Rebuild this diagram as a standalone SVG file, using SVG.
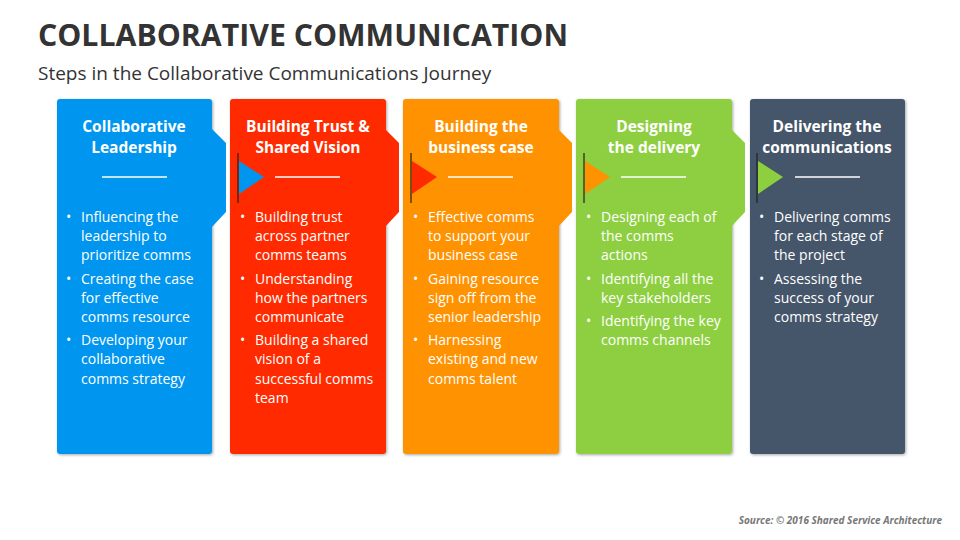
<svg xmlns="http://www.w3.org/2000/svg" width="960" height="540" viewBox="0 0 960 540">
<defs>
<style>
text{font-family:"Open Sans","Liberation Sans",sans-serif}
.h{font-weight:bold;font-size:15.5px;fill:#fff;text-anchor:middle}
.b{font-size:14px;fill:#fff}
.ul{stroke:#fff;stroke-width:1.5}
.vl{stroke:#222;stroke-width:2;opacity:.6}
</style>
<filter id="sh" x="-10%" y="-10%" width="120%" height="120%"><feDropShadow dx="1" dy="1" stdDeviation="1.5" flood-opacity="0.35"/></filter>
</defs>
<rect width="960" height="540" fill="#fff"/>
<text x="38" y="46" font-size="30" font-weight="bold" fill="#333" textLength="530" lengthAdjust="spacingAndGlyphs">COLLABORATIVE COMMUNICATION</text>
<text x="38" y="80" font-size="19" fill="#333">Steps in the Collaborative Communications Journey</text>

<g id="panel1"><rect x="57" y="99" width="155" height="355" rx="3" fill="#0096F0" filter="url(#sh)"/>
<text class="h" x="134" y="132">Collaborative</text><text class="h" x="134" y="153">Leadership</text>
<line class="ul" x1="102" y1="177" x2="167" y2="177"/>
<text class="b"><tspan x="66" y="222">•</tspan><tspan x="81" y="222">Influencing the</tspan><tspan x="81" y="241">leadership to</tspan><tspan x="81" y="260">prioritize comms</tspan><tspan x="66" y="284">•</tspan><tspan x="81" y="284">Creating the case</tspan><tspan x="81" y="303">for effective</tspan><tspan x="81" y="322">comms resource</tspan><tspan x="66" y="345">•</tspan><tspan x="81" y="345">Developing your</tspan><tspan x="81" y="364">collaborative</tspan><tspan x="81" y="384">comms strategy</tspan></text></g>

<g id="panel2"><rect x="230" y="99" width="156" height="355" rx="3" fill="#FF2A00" filter="url(#sh)"/>
<text class="h" x="308" y="132">Building Trust &amp;</text><text class="h" x="308" y="153">Shared Vision</text>
<line class="ul" x1="275" y1="177" x2="340" y2="177"/>
<text class="b"><tspan x="240" y="222">•</tspan><tspan x="255" y="222">Building trust</tspan><tspan x="255" y="241">across partner</tspan><tspan x="255" y="260">comms teams</tspan><tspan x="240" y="284">•</tspan><tspan x="255" y="284">Understanding</tspan><tspan x="255" y="303">how the partners</tspan><tspan x="255" y="322">communicate</tspan><tspan x="240" y="345">•</tspan><tspan x="255" y="345">Building a shared</tspan><tspan x="255" y="364">vision of a</tspan><tspan x="255" y="384">successful comms</tspan><tspan x="255" y="403">team</tspan></text></g>

<g id="panel3"><rect x="403" y="99" width="156" height="355" rx="3" fill="#FF9200" filter="url(#sh)"/>
<text class="h" x="481" y="132">Building the</text><text class="h" x="481" y="153">business case</text>
<line class="ul" x1="448" y1="177" x2="513" y2="177"/>
<text class="b"><tspan x="413" y="222">•</tspan><tspan x="428" y="222">Effective comms</tspan><tspan x="428" y="241">to support your</tspan><tspan x="428" y="260">business case</tspan><tspan x="413" y="284">•</tspan><tspan x="428" y="284">Gaining resource</tspan><tspan x="428" y="303">sign off from the</tspan><tspan x="428" y="322">senior leadership</tspan><tspan x="413" y="345">•</tspan><tspan x="428" y="345">Harnessing</tspan><tspan x="428" y="364">existing and new</tspan><tspan x="428" y="384">comms talent</tspan></text></g>

<g id="panel4"><rect x="576" y="99" width="156" height="355" rx="3" fill="#8DCF3F" filter="url(#sh)"/>
<text class="h" x="654" y="132">Designing</text><text class="h" x="654" y="153">the delivery</text>
<line class="ul" x1="621" y1="177" x2="686" y2="177"/>
<text class="b"><tspan x="586" y="222">•</tspan><tspan x="601" y="222">Designing each of</tspan><tspan x="601" y="241">the comms</tspan><tspan x="601" y="260">actions</tspan><tspan x="586" y="284">•</tspan><tspan x="601" y="284">Identifying all the</tspan><tspan x="601" y="303">key stakeholders</tspan><tspan x="586" y="326">•</tspan><tspan x="601" y="326">Identifying the key</tspan><tspan x="601" y="345">comms channels</tspan></text></g>

<g id="panel5"><rect x="750" y="99" width="155" height="355" rx="3" fill="#44546A" filter="url(#sh)"/>
<text class="h" x="827" y="132">Delivering the</text><text class="h" x="827" y="153">communications</text>
<line class="ul" x1="795" y1="177" x2="860" y2="177"/>
<text class="b"><tspan x="759" y="222">•</tspan><tspan x="774" y="222">Delivering comms</tspan><tspan x="774" y="241">for each stage of</tspan><tspan x="774" y="260">the project</tspan><tspan x="759" y="284">•</tspan><tspan x="774" y="284">Assessing the</tspan><tspan x="774" y="303">success of your</tspan><tspan x="774" y="322">comms strategy</tspan></text></g>

<g id="connectors">
<g><polygon points="211,128 226,143 226,212 211,228" fill="#0096F0"/><line class="vl" x1="238" y1="153" x2="238" y2="203"/><polygon points="239,161 264,177 239,194" fill="#0096F0"/></g>
<g transform="translate(173,0)"><polygon points="211,128 226,143 226,212 211,228" fill="#FF2A00"/><line class="vl" x1="238" y1="153" x2="238" y2="203"/><polygon points="239,161 264,177 239,194" fill="#FF2A00"/></g>
<g transform="translate(346,0)"><polygon points="211,128 226,143 226,212 211,228" fill="#FF9200"/><line class="vl" x1="238" y1="153" x2="238" y2="203"/><polygon points="239,161 264,177 239,194" fill="#FF9200"/></g>
<g transform="translate(519,0)"><polygon points="211,128 226,143 226,212 211,228" fill="#8DCF3F"/><line class="vl" x1="238" y1="153" x2="238" y2="203"/><polygon points="239,161 264,177 239,194" fill="#8DCF3F"/></g>
</g>
<text x="942" y="524" font-size="10" font-style="italic" font-weight="bold" fill="#777" text-anchor="end">Source: © 2016 Shared Service Architecture</text>
</svg>
